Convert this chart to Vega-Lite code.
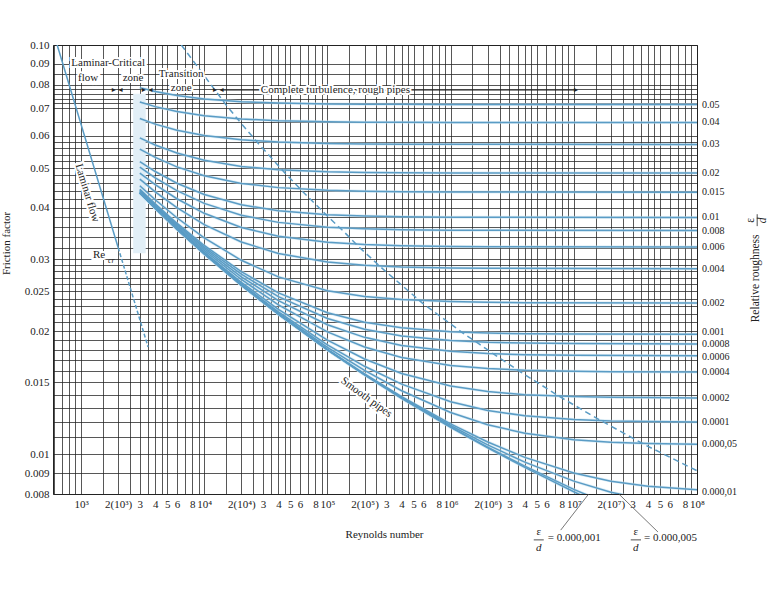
{
"$schema": "https://vega.github.io/schema/vega-lite/v6.json",
"width": 644, "height": 449,
"autosize": {"type": "none"},
"padding": {"left": 53, "top": 45, "right": 71, "bottom": 100},
"background": "white",
"config": {"view": {"stroke": "#222", "strokeWidth": 1}},
"datasets": {
"band": [{"Re": 2650, "Re2": 3350, "f": 0.031, "f2": 0.076}],
"curves": [
{"e":"0.05","Re":3000,"f":0.07868},{"e":"0.05","Re":4000,"f":0.07699},{"e":"0.05","Re":6000,"f":0.07524},{"e":"0.05","Re":10000,"f":0.0738},{"e":"0.05","Re":20000,"f":0.07269},{"e":"0.05","Re":40000,"f":0.07212},{"e":"0.05","Re":100000,"f":0.07178},{"e":"0.05","Re":200000,"f":0.07167},{"e":"0.05","Re":400000,"f":0.07161},{"e":"0.05","Re":1000000,"f":0.07157},{"e":"0.05","Re":100000000,"f":0.07155},
{"e":"0.04","Re":3000,"f":0.07254},{"e":"0.04","Re":4000,"f":0.07071},{"e":"0.04","Re":6000,"f":0.06879},{"e":"0.04","Re":10000,"f":0.06719},{"e":"0.04","Re":20000,"f":0.06595},{"e":"0.04","Re":40000,"f":0.06532},{"e":"0.04","Re":100000,"f":0.06493},{"e":"0.04","Re":200000,"f":0.0648},{"e":"0.04","Re":400000,"f":0.06474},{"e":"0.04","Re":1000000,"f":0.0647},{"e":"0.04","Re":100000000,"f":0.06467},
{"e":"0.03","Re":3000,"f":0.06612},{"e":"0.03","Re":4000,"f":0.06408},{"e":"0.03","Re":6000,"f":0.06193},{"e":"0.03","Re":10000,"f":0.06011},{"e":"0.03","Re":20000,"f":0.05868},{"e":"0.03","Re":40000,"f":0.05793},{"e":"0.03","Re":100000,"f":0.05748},{"e":"0.03","Re":200000,"f":0.05733},{"e":"0.03","Re":400000,"f":0.05725},{"e":"0.03","Re":1000000,"f":0.0572},{"e":"0.03","Re":100000000,"f":0.05717},
{"e":"0.02","Re":3000,"f":0.05929},{"e":"0.02","Re":4000,"f":0.05696},{"e":"0.02","Re":6000,"f":0.05445},{"e":"0.02","Re":10000,"f":0.05227},{"e":"0.02","Re":20000,"f":0.05052},{"e":"0.02","Re":40000,"f":0.0496},{"e":"0.02","Re":100000,"f":0.04903},{"e":"0.02","Re":200000,"f":0.04883},{"e":"0.02","Re":400000,"f":0.04873},{"e":"0.02","Re":1000000,"f":0.04868},{"e":"0.02","Re":100000000,"f":0.04864},
{"e":"0.015","Re":3000,"f":0.05567},{"e":"0.015","Re":4000,"f":0.05314},{"e":"0.015","Re":6000,"f":0.05037},{"e":"0.015","Re":10000,"f":0.04793},{"e":"0.015","Re":20000,"f":0.04591},{"e":"0.015","Re":40000,"f":0.04483},{"e":"0.015","Re":100000,"f":0.04415},{"e":"0.015","Re":200000,"f":0.04392},{"e":"0.015","Re":400000,"f":0.04381},{"e":"0.015","Re":1000000,"f":0.04374},{"e":"0.015","Re":100000000,"f":0.04369},
{"e":"0.01","Re":3000,"f":0.05187},{"e":"0.01","Re":4000,"f":0.04908},{"e":"0.01","Re":6000,"f":0.04596},{"e":"0.01","Re":10000,"f":0.04313},{"e":"0.01","Re":20000,"f":0.04071},{"e":"0.01","Re":40000,"f":0.03936},{"e":"0.01","Re":100000,"f":0.0385},{"e":"0.01","Re":200000,"f":0.0382},{"e":"0.01","Re":400000,"f":0.03805},{"e":"0.01","Re":1000000,"f":0.03796},{"e":"0.01","Re":100000000,"f":0.0379},
{"e":"0.008","Re":3000,"f":0.05029},{"e":"0.008","Re":4000,"f":0.04738},{"e":"0.008","Re":6000,"f":0.04408},{"e":"0.008","Re":10000,"f":0.04103},{"e":"0.008","Re":20000,"f":0.03837},{"e":"0.008","Re":40000,"f":0.03687},{"e":"0.008","Re":100000,"f":0.03589},{"e":"0.008","Re":200000,"f":0.03555},{"e":"0.008","Re":400000,"f":0.03537},{"e":"0.008","Re":1000000,"f":0.03527},{"e":"0.008","Re":100000000,"f":0.0352},
{"e":"0.006","Re":3000,"f":0.04866},{"e":"0.006","Re":4000,"f":0.04562},{"e":"0.006","Re":6000,"f":0.04211},{"e":"0.006","Re":10000,"f":0.0388},{"e":"0.006","Re":20000,"f":0.03584},{"e":"0.006","Re":40000,"f":0.03411},{"e":"0.006","Re":100000,"f":0.03295},{"e":"0.006","Re":200000,"f":0.03254},{"e":"0.006","Re":400000,"f":0.03233},{"e":"0.006","Re":1000000,"f":0.0322},{"e":"0.006","Re":2000000,"f":0.03216},{"e":"0.006","Re":100000000,"f":0.03212},
{"e":"0.004","Re":3000,"f":0.04701},{"e":"0.004","Re":4000,"f":0.04379},{"e":"0.004","Re":6000,"f":0.04004},{"e":"0.004","Re":10000,"f":0.03641},{"e":"0.004","Re":20000,"f":0.03302},{"e":"0.004","Re":40000,"f":0.03095},{"e":"0.004","Re":100000,"f":0.0295},{"e":"0.004","Re":200000,"f":0.02897},{"e":"0.004","Re":400000,"f":0.0287},{"e":"0.004","Re":1000000,"f":0.02853},{"e":"0.004","Re":2000000,"f":0.02847},{"e":"0.004","Re":100000000,"f":0.02842},
{"e":"0.002","Re":3000,"f":0.04529},{"e":"0.002","Re":4000,"f":0.04188},{"e":"0.002","Re":6000,"f":0.03784},{"e":"0.002","Re":10000,"f":0.03379},{"e":"0.002","Re":20000,"f":0.02979},{"e":"0.002","Re":40000,"f":0.02713},{"e":"0.002","Re":100000,"f":0.02511},{"e":"0.002","Re":200000,"f":0.02431},{"e":"0.002","Re":400000,"f":0.02388},{"e":"0.002","Re":1000000,"f":0.02361},{"e":"0.002","Re":2000000,"f":0.02351},{"e":"0.002","Re":4000000,"f":0.02347},{"e":"0.002","Re":100000000,"f":0.02342},
{"e":"0.001","Re":3000,"f":0.04443},{"e":"0.001","Re":4000,"f":0.04093},{"e":"0.001","Re":6000,"f":0.0367},{"e":"0.001","Re":10000,"f":0.03238},{"e":"0.001","Re":20000,"f":0.02794},{"e":"0.001","Re":40000,"f":0.0248},{"e":"0.001","Re":100000,"f":0.02217},{"e":"0.001","Re":200000,"f":0.02103},{"e":"0.001","Re":400000,"f":0.02038},{"e":"0.001","Re":1000000,"f":0.01994},{"e":"0.001","Re":2000000,"f":0.01979},{"e":"0.001","Re":4000000,"f":0.01971},{"e":"0.001","Re":10000000,"f":0.01967},{"e":"0.001","Re":100000000,"f":0.01964},
{"e":"0.0008","Re":3000,"f":0.04423},{"e":"0.0008","Re":4000,"f":0.04071},{"e":"0.0008","Re":6000,"f":0.03647},{"e":"0.0008","Re":10000,"f":0.03209},{"e":"0.0008","Re":20000,"f":0.02755},{"e":"0.0008","Re":40000,"f":0.02429},{"e":"0.0008","Re":100000,"f":0.02148},{"e":"0.0008","Re":200000,"f":0.02022},{"e":"0.0008","Re":400000,"f":0.01947},{"e":"0.0008","Re":1000000,"f":0.01897},{"e":"0.0008","Re":2000000,"f":0.01879},{"e":"0.0008","Re":4000000,"f":0.0187},{"e":"0.0008","Re":10000000,"f":0.01865},{"e":"0.0008","Re":100000000,"f":0.01861},
{"e":"0.0006","Re":3000,"f":0.04405},{"e":"0.0006","Re":4000,"f":0.04052},{"e":"0.0006","Re":6000,"f":0.03623},{"e":"0.0006","Re":10000,"f":0.0318},{"e":"0.0006","Re":20000,"f":0.02715},{"e":"0.0006","Re":40000,"f":0.02375},{"e":"0.0006","Re":100000,"f":0.02073},{"e":"0.0006","Re":200000,"f":0.01931},{"e":"0.0006","Re":400000,"f":0.01845},{"e":"0.0006","Re":1000000,"f":0.01785},{"e":"0.0006","Re":2000000,"f":0.01763},{"e":"0.0006","Re":4000000,"f":0.01752},{"e":"0.0006","Re":10000000,"f":0.01745},{"e":"0.0006","Re":100000000,"f":0.0174},
{"e":"0.0004","Re":3000,"f":0.04387},{"e":"0.0004","Re":4000,"f":0.04031},{"e":"0.0004","Re":6000,"f":0.03598},{"e":"0.0004","Re":10000,"f":0.0315},{"e":"0.0004","Re":20000,"f":0.02674},{"e":"0.0004","Re":40000,"f":0.02318},{"e":"0.0004","Re":100000,"f":0.01991},{"e":"0.0004","Re":200000,"f":0.01829},{"e":"0.0004","Re":400000,"f":0.01725},{"e":"0.0004","Re":1000000,"f":0.01649},{"e":"0.0004","Re":2000000,"f":0.0162},{"e":"0.0004","Re":4000000,"f":0.01605},{"e":"0.0004","Re":10000000,"f":0.01596},{"e":"0.0004","Re":20000000,"f":0.01592},{"e":"0.0004","Re":100000000,"f":0.01589},
{"e":"0.0002","Re":3000,"f":0.0437},{"e":"0.0002","Re":4000,"f":0.04012},{"e":"0.0002","Re":6000,"f":0.03575},{"e":"0.0002","Re":10000,"f":0.03119},{"e":"0.0002","Re":20000,"f":0.02632},{"e":"0.0002","Re":40000,"f":0.02259},{"e":"0.0002","Re":100000,"f":0.01901},{"e":"0.0002","Re":200000,"f":0.0171},{"e":"0.0002","Re":400000,"f":0.01576},{"e":"0.0002","Re":1000000,"f":0.01468},{"e":"0.0002","Re":2000000,"f":0.01424},{"e":"0.0002","Re":4000000,"f":0.01399},{"e":"0.0002","Re":10000000,"f":0.01384},{"e":"0.0002","Re":20000000,"f":0.01378},{"e":"0.0002","Re":40000000,"f":0.01376},{"e":"0.0002","Re":100000000,"f":0.01373},
{"e":"0.0001","Re":3000,"f":0.04361},{"e":"0.0001","Re":4000,"f":0.04001},{"e":"0.0001","Re":6000,"f":0.03563},{"e":"0.0001","Re":10000,"f":0.03103},{"e":"0.0001","Re":20000,"f":0.0261},{"e":"0.0001","Re":40000,"f":0.02229},{"e":"0.0001","Re":100000,"f":0.01851},{"e":"0.0001","Re":200000,"f":0.01641},{"e":"0.0001","Re":400000,"f":0.01484},{"e":"0.0001","Re":1000000,"f":0.01344},{"e":"0.0001","Re":2000000,"f":0.0128},{"e":"0.0001","Re":4000000,"f":0.01242},{"e":"0.0001","Re":10000000,"f":0.01217},{"e":"0.0001","Re":20000000,"f":0.01207},{"e":"0.0001","Re":40000000,"f":0.01203},{"e":"0.0001","Re":100000000,"f":0.012},
{"e":"0.00005","Re":3000,"f":0.04356},{"e":"0.00005","Re":4000,"f":0.03996},{"e":"0.00005","Re":6000,"f":0.03556},{"e":"0.00005","Re":10000,"f":0.03095},{"e":"0.00005","Re":20000,"f":0.02599},{"e":"0.00005","Re":40000,"f":0.02213},{"e":"0.00005","Re":100000,"f":0.01826},{"e":"0.00005","Re":200000,"f":0.01604},{"e":"0.00005","Re":400000,"f":0.0143},{"e":"0.00005","Re":1000000,"f":0.01265},{"e":"0.00005","Re":2000000,"f":0.01181},{"e":"0.00005","Re":4000000,"f":0.01126},{"e":"0.00005","Re":10000000,"f":0.01086},{"e":"0.00005","Re":20000000,"f":0.01071},{"e":"0.00005","Re":40000000,"f":0.01063},{"e":"0.00005","Re":100000000,"f":0.01058},
{"e":"0.00001","Re":3000,"f":0.04352},{"e":"0.00001","Re":4000,"f":0.03991},{"e":"0.00001","Re":6000,"f":0.03551},{"e":"0.00001","Re":10000,"f":0.0309},{"e":"0.00001","Re":20000,"f":0.0259},{"e":"0.00001","Re":40000,"f":0.022},{"e":"0.00001","Re":100000,"f":0.01804},{"e":"0.00001","Re":200000,"f":0.01572},{"e":"0.00001","Re":400000,"f":0.01383},{"e":"0.00001","Re":1000000,"f":0.01187},{"e":"0.00001","Re":2000000,"f":0.01072},{"e":"0.00001","Re":4000000,"f":0.00983},{"e":"0.00001","Re":10000000,"f":0.009},{"e":"0.00001","Re":20000000,"f":0.0086},{"e":"0.00001","Re":40000000,"f":0.00836},{"e":"0.00001","Re":100000000,"f":0.00819},
{"e":"0.000005","Re":3000,"f":0.04352},{"e":"0.000005","Re":4000,"f":0.03991},{"e":"0.000005","Re":6000,"f":0.03551},{"e":"0.000005","Re":10000,"f":0.03089},{"e":"0.000005","Re":20000,"f":0.0259},{"e":"0.000005","Re":40000,"f":0.02199},{"e":"0.000005","Re":100000,"f":0.01802},{"e":"0.000005","Re":200000,"f":0.01568},{"e":"0.000005","Re":400000,"f":0.01377},{"e":"0.000005","Re":1000000,"f":0.01176},{"e":"0.000005","Re":2000000,"f":0.01055},{"e":"0.000005","Re":4000000,"f":0.00957},{"e":"0.000005","Re":10000000,"f":0.0086},{"e":"0.000005","Re":20000000,"f":0.00808},{"e":"0.000005","Re":40000000,"f":0.00773},
{"e":"0.000001","Re":3000,"f":0.0435},{"e":"0.000001","Re":4000,"f":0.0399},{"e":"0.000001","Re":6000,"f":0.0355},{"e":"0.000001","Re":10000,"f":0.0309},{"e":"0.000001","Re":20000,"f":0.0259},{"e":"0.000001","Re":40000,"f":0.022},{"e":"0.000001","Re":100000,"f":0.018},{"e":"0.000001","Re":200000,"f":0.01565},{"e":"0.000001","Re":400000,"f":0.01372},{"e":"0.000001","Re":1000000,"f":0.01167},{"e":"0.000001","Re":2000000,"f":0.01041},{"e":"0.000001","Re":4000000,"f":0.00936},{"e":"0.000001","Re":10000000,"f":0.00821},{"e":"0.000001","Re":20000000,"f":0.00752},
{"e":"smooth","Re":3000,"f":0.0435},{"e":"smooth","Re":4000,"f":0.0399},{"e":"smooth","Re":6000,"f":0.0355},{"e":"smooth","Re":10000,"f":0.0309},{"e":"smooth","Re":20000,"f":0.0259},{"e":"smooth","Re":40000,"f":0.022},{"e":"smooth","Re":100000,"f":0.018},{"e":"smooth","Re":200000,"f":0.01564},{"e":"smooth","Re":400000,"f":0.0137},{"e":"smooth","Re":1000000,"f":0.01164},{"e":"smooth","Re":2000000,"f":0.01037},{"e":"smooth","Re":4000000,"f":0.00929},{"e":"smooth","Re":10000000,"f":0.0081},{"e":"smooth","Re":20000000,"f":0.00734}
],
"laminar": [{"s":"solid","Re":640,"f":0.1},{"s":"solid","Re":2000,"f":0.032},{"s":"dash","Re":2000,"f":0.032},{"s":"dash","Re":3500,"f":0.01829}],
"boundary": [{"Re":6514,"f":0.1},{"Re":14954,"f":0.07155},{"Re":19662,"f":0.06467},{"Re":27881,"f":0.05717},{"Re":45343,"f":0.04864},{"Re":63789,"f":0.04369},{"Re":102728,"f":0.0379},{"Re":133255,"f":0.0352},{"Re":180000,"f":0.03212},{"Re":280000,"f":0.02842},{"Re":590000,"f":0.02342},{"Re":1300000,"f":0.01964},{"Re":1700000,"f":0.01861},{"Re":2350000,"f":0.0174},{"Re":3700000,"f":0.01589},{"Re":8000000,"f":0.01373},{"Re":17500000,"f":0.01198},{"Re":38000000,"f":0.01054},{"Re":100000000,"f":0.00912}],
"arrowline": [{"Re":13900,"Re2":10400000,"f":0.0776}],
"ann": [{"t":"Laminar-Critical","Re":1659,"f":0.0904},{"t":"flow","Re":1140,"f":0.0831},{"t":"zone","Re":2645,"f":0.0831},{"t":"Transition","Re":6500,"f":0.0849},{"t":"zone","Re":6500,"f":0.0785},{"t":"Complete turbulence, rough pipes","Re":116000,"f":0.0776}],
"arrows": [{"t":"▸ ◂","Re":1963,"f":0.0776},{"t":"▸ ◂","Re":3440,"f":0.0776},{"t":"▸ ◂","Re":13000,"f":0.0776},{"t":"▸","Re":10400000,"f":0.0776}],
"lamtext": [{"t":"Laminar flow","Re":1119,"f":0.0435}],
"smtext": [{"t":"Smooth pipes","Re":207000,"f":0.01378}],
"recr": [{"t":"Re","Re":1400,"f":0.0307}],
"recrsub": [{"t":"cr","Re":1760,"f":0.0296}],
"rlab": [{"t":"0.05","Re":100000000,"f":0.07155},{"t":"0.04","Re":100000000,"f":0.06467},{"t":"0.03","Re":100000000,"f":0.05717},{"t":"0.02","Re":100000000,"f":0.04864},{"t":"0.015","Re":100000000,"f":0.04369},{"t":"0.01","Re":100000000,"f":0.0379},{"t":"0.008","Re":100000000,"f":0.0352},{"t":"0.006","Re":100000000,"f":0.03212},{"t":"0.004","Re":100000000,"f":0.02842},{"t":"0.002","Re":100000000,"f":0.02342},{"t":"0.001","Re":100000000,"f":0.0199},{"t":"0.0008","Re":100000000,"f":0.01861},{"t":"0.0006","Re":100000000,"f":0.01733},{"t":"0.0004","Re":100000000,"f":0.01589},{"t":"0.0002","Re":100000000,"f":0.01373},{"t":"0.0001","Re":100000000,"f":0.012},{"t":"0.000,05","Re":100000000,"f":0.01058},{"t":"0.000,01","Re":100000000,"f":0.0081}],
"eps": [{"t":"ε","Re":5190000,"f":0.00646},{"t":"ε","Re":31900000,"f":0.00646}],
"dd": [{"t":"d","Re":5190000,"f":0.00592},{"t":"d","Re":31900000,"f":0.00592}],
"eq": [{"t":"= 0.000,001","Re":6150000,"f":0.00624},{"t":"= 0.000,005","Re":37100000,"f":0.00624}],
"bars": [{"Re":4730000,"Re2":5700000,"f":0.00618,"f2":0.00618},{"Re":29000000,"Re2":35100000,"f":0.00618,"f2":0.00618}],
"leaders": [{"Re":7830000,"Re2":13200000,"f":0.00653,"f2":0.008},{"Re":48200000,"Re2":23200000,"f":0.00646,"f2":0.0080}],
"rtitle": [{"t":"Relative roughness","Re":302000000,"f":0.0269}],
"reps": [{"t":"ε","Re":275000000,"f":0.0373}],
"rd": [{"t":"d","Re":344000000,"f":0.0373}],
"rbar": [{"Re":308000000,"Re2":308000000,"f":0.0386,"f2":0.0361}]
},
"encoding": {
"x": {"field": "Re", "type": "quantitative",
 "scale": {"type": "log", "domain": [592, 100000000], "nice": false},
 "axis": {
  "values": [600,700,800,900,1000,1500,2000,2500,3000,3500,4000,4500,5000,6000,7000,8000,9000,10000,15000,20000,25000,30000,35000,40000,45000,50000,60000,70000,80000,90000,100000,150000,200000,250000,300000,350000,400000,450000,500000,600000,700000,800000,900000,1000000,1500000,2000000,2500000,3000000,3500000,4000000,4500000,5000000,6000000,7000000,8000000,9000000,10000000,15000000,20000000,25000000,30000000,35000000,40000000,45000000,50000000,60000000,70000000,80000000,90000000,100000000],
  "labelExpr": "datum.value < 999 ? '' : (round(datum.value/pow(10,floor(log(datum.value)/LN10+0.000001))*10) == 10 ? '10' + ['','','','³','⁴','⁵','⁶','⁷','⁸'][floor(log(datum.value)/LN10+0.000001)] : (round(datum.value/pow(10,floor(log(datum.value)/LN10+0.000001))*10) == 20 ? '2(10' + ['','','','³','⁴','⁵','⁶','⁷','⁸'][floor(log(datum.value)/LN10+0.000001)] + ')' : (indexof([30,40,50,60,80], round(datum.value/pow(10,floor(log(datum.value)/LN10+0.000001))*10)) >= 0 ? toString(round(datum.value/pow(10,floor(log(datum.value)/LN10+0.000001)))) : '')))",
  "grid": true, "gridColor": "#222", "gridWidth": 0.85, "gridOpacity": 0.9,
  "ticks": false, "domain": false,
  "labelOverlap": false, "labelFlush": false, "labelBound": false,
  "labelFont": "Liberation Serif", "labelFontSize": 11, "labelColor": "#222", "labelPadding": 4,
  "title": "Reynolds number", "titleFont": "Liberation Serif", "titleFontSize": 11, "titleFontWeight": "normal", "titleColor": "#222", "titleX": 331, "titleY": 34
 }},
"y": {"field": "f", "type": "quantitative",
 "scale": {"type": "log", "domain": [0.008, 0.1], "nice": false},
 "axis": {
  "values": [0.008,0.009,0.01,0.011,0.012,0.013,0.014,0.015,0.016,0.017,0.018,0.019,0.02,0.021,0.022,0.023,0.024,0.025,0.026,0.027,0.028,0.029,0.03,0.032,0.034,0.036,0.038,0.04,0.042,0.044,0.046,0.048,0.05,0.052,0.054,0.056,0.058,0.06,0.065,0.07,0.072,0.074,0.076,0.078,0.08,0.085,0.09,0.1],
  "labelExpr": "datum.value == 0.1 ? '0.10' : (indexof([0.008,0.009,0.01,0.015,0.02,0.025,0.03,0.04,0.05,0.06,0.07,0.08,0.09], datum.value) >= 0 ? toString(datum.value) : '')",
  "grid": true, "gridColor": "#222", "gridWidth": 0.85, "gridOpacity": 0.9,
  "ticks": false, "domain": false,
  "labelOverlap": false, "labelFlush": false, "labelBound": false,
  "labelFont": "Liberation Serif", "labelFontSize": 11, "labelColor": "#222", "labelPadding": 4,
  "title": "Friction factor", "titleFont": "Liberation Serif", "titleFontSize": 11, "titleFontWeight": "normal", "titleColor": "#222", "titleX": -42, "titleY": 198
 }}
},
"layer": [
{"data": {"name": "band"}, "mark": {"type": "rect", "color": "#e2eff7"}, "encoding": {"x2": {"field": "Re2"}, "y2": {"field": "f2"}}},
{"data": {"name": "curves"}, "mark": {"type": "line", "color": "#c6e2f1", "strokeWidth": 3, "clip": true, "opacity": 0.55}, "encoding": {"detail": {"field": "e"}}},
{"data": {"name": "curves"}, "mark": {"type": "line", "color": "#5a9cc5", "strokeWidth": 1.5, "clip": true}, "encoding": {"detail": {"field": "e"}}},
{"data": {"name": "laminar"}, "transform": [{"filter": "datum.s == 'solid'"}], "mark": {"type": "line", "color": "#5a9cc5", "strokeWidth": 1.5, "clip": true}, "encoding": {}},
{"data": {"name": "laminar"}, "transform": [{"filter": "datum.s == 'dash'"}], "mark": {"type": "line", "color": "#5a9cc5", "strokeWidth": 1.5, "strokeDash": [4, 2], "clip": true}, "encoding": {}},
{"data": {"name": "boundary"}, "mark": {"type": "line", "color": "#5a9cc5", "strokeWidth": 1.5, "strokeDash": [6, 4], "clip": true}, "encoding": {}},
{"data": {"name": "arrowline"}, "mark": {"type": "rule", "color": "#222", "strokeWidth": 0.9}, "encoding": {"x2": {"field": "Re2"}}},
{"data": {"name": "ann"}, "mark": {"type": "text", "font": "Liberation Serif", "fontSize": 11, "color": "white", "stroke": "white", "strokeWidth": 4}, "encoding": {"text": {"field": "t"}}},
{"data": {"name": "ann"}, "mark": {"type": "text", "font": "Liberation Serif", "fontSize": 11, "color": "#222"}, "encoding": {"text": {"field": "t"}}},
{"data": {"name": "arrows"}, "mark": {"type": "text", "font": "DejaVu Sans", "fontSize": 8, "color": "#222"}, "encoding": {"text": {"field": "t"}}},
{"data": {"name": "lamtext"}, "mark": {"type": "text", "font": "Liberation Serif", "fontSize": 11, "angle": 73, "color": "white", "stroke": "white", "strokeWidth": 4}, "encoding": {"text": {"field": "t"}}},
{"data": {"name": "lamtext"}, "mark": {"type": "text", "font": "Liberation Serif", "fontSize": 11, "angle": 73, "color": "#222"}, "encoding": {"text": {"field": "t"}}},
{"data": {"name": "smtext"}, "mark": {"type": "text", "font": "Liberation Serif", "fontSize": 11, "angle": 36, "color": "white", "stroke": "white", "strokeWidth": 4}, "encoding": {"text": {"field": "t"}}},
{"data": {"name": "smtext"}, "mark": {"type": "text", "font": "Liberation Serif", "fontSize": 11, "angle": 36, "color": "#222"}, "encoding": {"text": {"field": "t"}}},
{"data": {"name": "recr"}, "mark": {"type": "text", "font": "Liberation Serif", "fontSize": 11, "color": "white", "stroke": "white", "strokeWidth": 4}, "encoding": {"text": {"field": "t"}}},
{"data": {"name": "recr"}, "mark": {"type": "text", "font": "Liberation Serif", "fontSize": 11, "color": "#222"}, "encoding": {"text": {"field": "t"}}},
{"data": {"name": "recrsub"}, "mark": {"type": "text", "font": "Liberation Serif", "fontSize": 8, "fontStyle": "italic", "color": "#222"}, "encoding": {"text": {"field": "t"}}},
{"data": {"name": "rlab"}, "mark": {"type": "text", "font": "Liberation Serif", "fontSize": 10, "align": "left", "baseline": "middle", "dx": 5, "color": "#222"}, "encoding": {"text": {"field": "t"}}},
{"data": {"name": "eps"}, "mark": {"type": "text", "font": "Liberation Serif", "fontSize": 11, "align": "center", "baseline": "middle", "color": "#222"}, "encoding": {"text": {"field": "t"}}},
{"data": {"name": "dd"}, "mark": {"type": "text", "font": "Liberation Serif", "fontSize": 11, "fontStyle": "italic", "align": "center", "baseline": "middle", "color": "#222"}, "encoding": {"text": {"field": "t"}}},
{"data": {"name": "eq"}, "mark": {"type": "text", "font": "Liberation Serif", "fontSize": 11, "align": "left", "baseline": "middle", "color": "#222"}, "encoding": {"text": {"field": "t"}}},
{"data": {"name": "bars"}, "mark": {"type": "rule", "color": "#222", "strokeWidth": 0.8}, "encoding": {"x2": {"field": "Re2"}, "y2": {"field": "f2"}}},
{"data": {"name": "leaders"}, "mark": {"type": "rule", "color": "#555", "strokeWidth": 0.8}, "encoding": {"x2": {"field": "Re2"}, "y2": {"field": "f2"}}},
{"data": {"name": "rtitle"}, "mark": {"type": "text", "font": "Liberation Serif", "fontSize": 11.5, "angle": 270, "align": "center", "baseline": "middle", "color": "#222"}, "encoding": {"text": {"field": "t"}}},
{"data": {"name": "reps"}, "mark": {"type": "text", "font": "Liberation Serif", "fontSize": 11.5, "angle": 270, "align": "center", "baseline": "middle", "color": "#222"}, "encoding": {"text": {"field": "t"}}},
{"data": {"name": "rd"}, "mark": {"type": "text", "font": "Liberation Serif", "fontSize": 11.5, "fontStyle": "italic", "angle": 270, "align": "center", "baseline": "middle", "color": "#222"}, "encoding": {"text": {"field": "t"}}},
{"data": {"name": "rbar"}, "mark": {"type": "rule", "color": "#222", "strokeWidth": 0.8}, "encoding": {"x2": {"field": "Re2"}, "y2": {"field": "f2"}}}
]
}
